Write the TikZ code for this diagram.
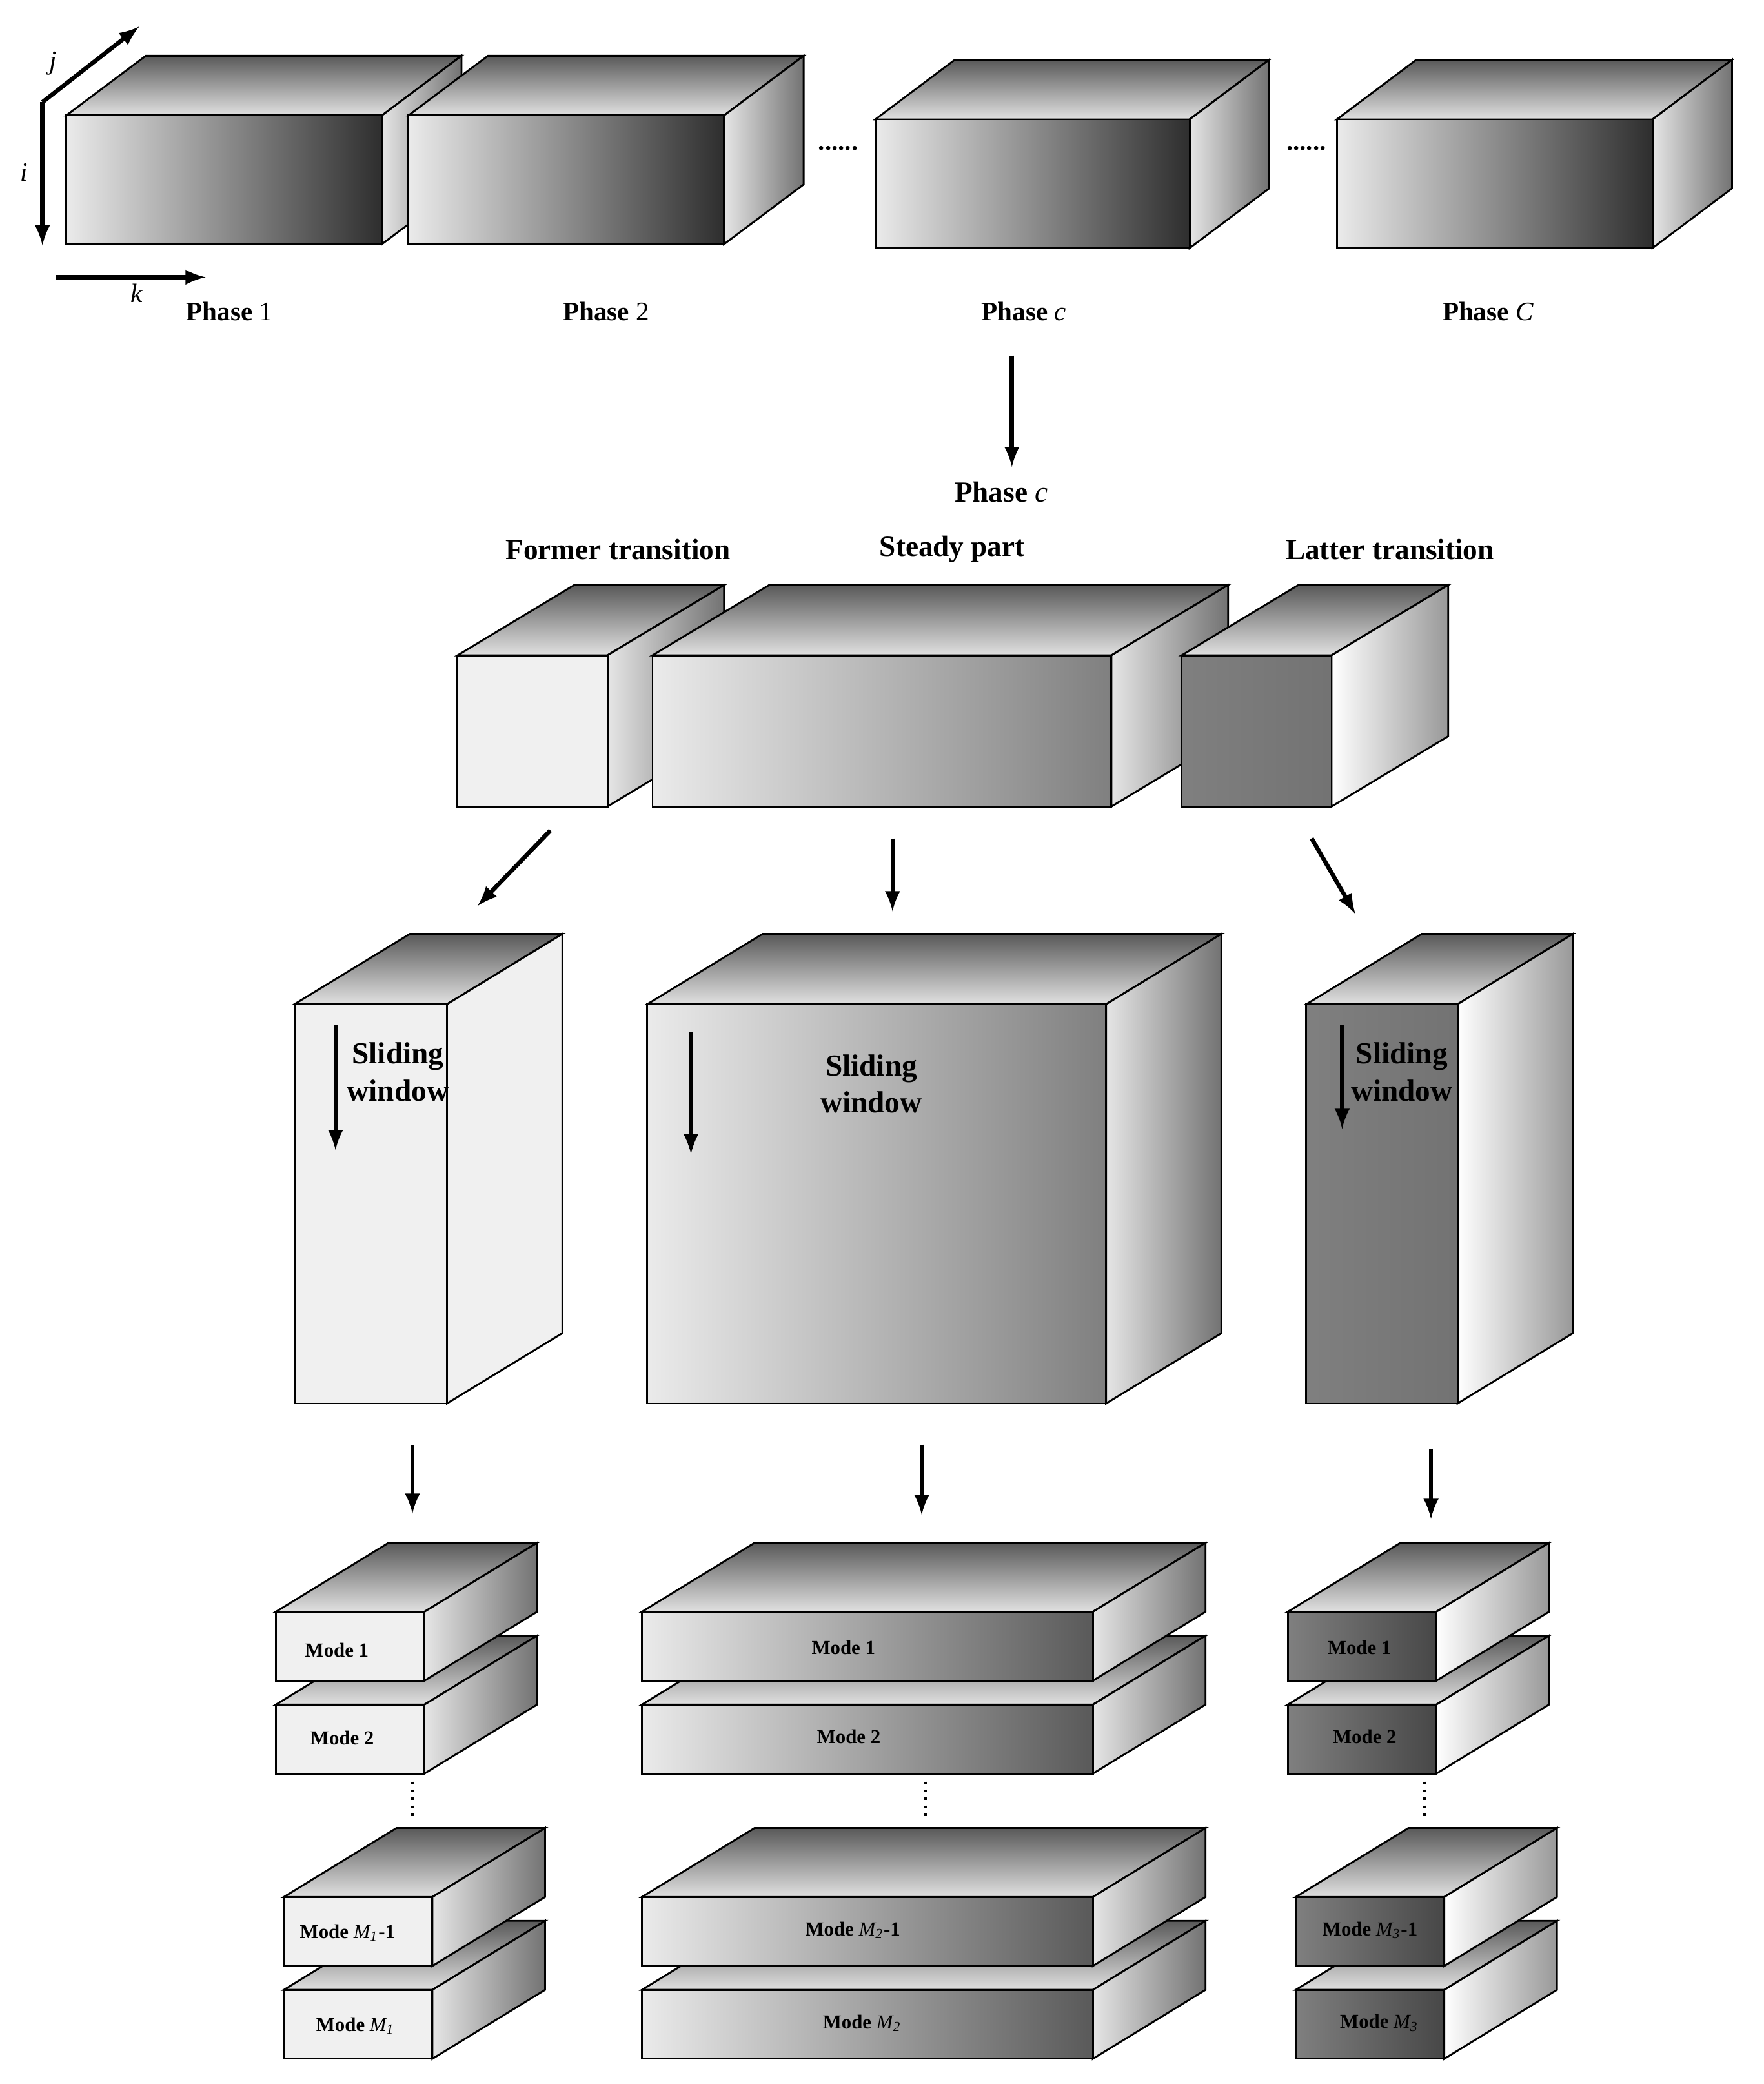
\documentclass[tikz,border=0pt]{standalone}
\usepackage{fontspec}
\setmainfont{Liberation Serif}
\begin{document}
\begin{tikzpicture}[x=0.5pt,y=-0.5pt,
 ln/.style={draw=black,line width=0.7pt},
 arr/.style={-latex,line width=1.6pt},
 fgrad/.style={left color=black!8,right color=black!82},
 fsteady/.style={left color=black!8,right color=black!50},
 fmode/.style={left color=black!8,right color=black!65},
 flight/.style={fill=black!6},
 fdark/.style={left color=black!50,right color=black!55},
 fdarkm/.style={left color=black!50,right color=black!72},
 tgrad/.style={top color=black!65,bottom color=black!12},
 sgrad/.style={left color=black!10,right color=black!55},
 slight/.style={left color=white,right color=black!40},
 lab/.style={font=\bfseries\fontsize{10}{12}\selectfont},
 head/.style={font=\bfseries\fontsize{11}{13}\selectfont},
 mlab/.style={font=\bfseries\fontsize{7.5}{9}\selectfont},
 sl/.style={font=\bfseries\fontsize{11.5}{14}\selectfont,align=center}]
\useasboundingbox (0,0) rectangle (1330,1571);
\newcommand\cub[9]{%
 \path[ln,#8] (#1,#2) -- (#3,#2) -- ({#3+#5},{#2-#6}) -- ({#1+#5},{#2-#6}) -- cycle;
 \path[ln,#9] (#3,#2) -- ({#3+#5},{#2-#6}) -- ({#3+#5},{#4-#6}) -- (#3,#4) -- cycle;
 \path[ln,#7] (#1,#2) rectangle (#3,#4);}
% top row
\cub{50}{87}{288}{184}{60}{45}{fgrad}{tgrad}{sgrad}
\cub{308}{87}{546}{184}{60}{45}{fgrad}{tgrad}{sgrad}
\cub{660}{90}{897}{187}{60}{45}{fgrad}{tgrad}{sgrad}
\cub{1008}{90}{1246}{187}{60}{45}{fgrad}{tgrad}{sgrad}
\node (d1) at (632,112) {\textbf{......}};
\node (d2) at (985,112) {\textbf{......}};
\coordinate (o) at (32,77); \coordinate (oj) at (105,20); \coordinate (oi) at (32,185);
\coordinate (k0) at (42,209); \coordinate (k1) at (155,209);
\draw[arr] (o) -- (oj); \draw[arr] (o) -- (oi); \draw[arr] (k0) -- (k1);
\node (lj) at (40,48) {\itshape j};
\node (li) at (18,130) {\itshape i};
\node (lk) at (103,221) {\itshape k};
\node[lab] (p1) at (173,235) {Phase \textmd{1}};
\node[lab] (p2) at (457,235) {Phase \textmd{2}};
\node[lab] (pc) at (772,235) {Phase \textmd{\itshape c}};
\node[lab] (pC) at (1122,235) {Phase \textmd{\itshape C}};
\coordinate (a0) at (763,268); \coordinate (a1) at (763,352);
\draw[arr] (a0) -- (a1);
\node[head] (pc2) at (755,371) {Phase \textmd{\itshape c}};
\node[head] (hf) at (466,414) {Former transition};
\node[head] (hs) at (718,414) {Steady part};
\node[head] (hl) at (1048,414) {Latter transition};
% middle row
\cub{345}{494}{458}{608}{88}{53}{flight}{tgrad}{sgrad}
\cub{492}{494}{838}{608}{88}{53}{fsteady}{tgrad}{sgrad}
\cub{891}{494}{1004}{608}{88}{53}{fdark}{tgrad}{slight}
\coordinate (b0) at (415,626); \coordinate (b1) at (360,683);
\coordinate (c0) at (673,632); \coordinate (c1) at (673,687);
\coordinate (e0) at (989,632); \coordinate (e1) at (1022,689);
\draw[arr] (b0) -- (b1); \draw[arr] (c0) -- (c1); \draw[arr] (e0) -- (e1);
% third row
\cub{222}{757}{337}{1058}{87}{53}{flight}{tgrad}{flight}
\cub{488}{757}{834}{1058}{87}{53}{fsteady}{tgrad}{sgrad}
\cub{985}{757}{1099}{1058}{87}{53}{fdark}{tgrad}{slight}
\coordinate (s0) at (253,773); \coordinate (s1) at (253,867);
\coordinate (t0) at (521,778); \coordinate (t1) at (521,870);
\coordinate (u0) at (1012,773); \coordinate (u1) at (1012,851);
\draw[arr] (s0) -- (s1); \draw[arr] (t0) -- (t1); \draw[arr] (u0) -- (u1);
\node[sl] (w1) at (300,808) {Sliding\\window};
\node[sl] (w2) at (657,817) {Sliding\\window};
\node[sl] (w3) at (1057,808) {Sliding\\window};
\coordinate (f0) at (311,1089); \coordinate (f1) at (311,1141);
\coordinate (g0) at (695,1089); \coordinate (g1) at (695,1142);
\coordinate (h0) at (1079,1092); \coordinate (h1) at (1079,1145);
\draw[arr] (f0) -- (f1); \draw[arr] (g0) -- (g1); \draw[arr] (h0) -- (h1);
% modes
\cub{208}{1285}{320}{1337}{85}{52}{flight}{tgrad}{sgrad}
\cub{208}{1215}{320}{1267}{85}{52}{flight}{tgrad}{sgrad}
\cub{214}{1500}{326}{1552}{85}{52}{flight}{tgrad}{sgrad}
\cub{214}{1430}{326}{1482}{85}{52}{flight}{tgrad}{sgrad}
\cub{484}{1285}{824}{1337}{85}{52}{fmode}{tgrad}{sgrad}
\cub{484}{1215}{824}{1267}{85}{52}{fmode}{tgrad}{sgrad}
\cub{484}{1500}{824}{1552}{85}{52}{fmode}{tgrad}{sgrad}
\cub{484}{1430}{824}{1482}{85}{52}{fmode}{tgrad}{sgrad}
\cub{971}{1285}{1083}{1337}{85}{52}{fdarkm}{tgrad}{slight}
\cub{971}{1215}{1083}{1267}{85}{52}{fdarkm}{tgrad}{slight}
\cub{977}{1500}{1089}{1552}{85}{52}{fdarkm}{tgrad}{slight}
\cub{977}{1430}{1089}{1482}{85}{52}{fdarkm}{tgrad}{slight}
\node[mlab] (m11) at (254,1244) {Mode 1};
\node[mlab] (m12) at (258,1310) {Mode 2};
\node[mlab] (m13) at (262,1457) {Mode \textmd{\itshape M\textsubscript{1}}-1};
\node[mlab] (m14) at (268,1527) {Mode \textmd{\itshape M\textsubscript{1}}};
\node[mlab] (m21) at (636,1242) {Mode 1};
\node[mlab] (m22) at (640,1309) {Mode 2};
\node[mlab] (m23) at (643,1455) {Mode \textmd{\itshape M\textsubscript{2}}-1};
\node[mlab] (m24) at (650,1525) {Mode \textmd{\itshape M\textsubscript{2}}};
\node[mlab] (m31) at (1025,1242) {Mode 1};
\node[mlab] (m32) at (1029,1309) {Mode 2};
\node[mlab] (m33) at (1033,1455) {Mode \textmd{\itshape M\textsubscript{3}}-1};
\node[mlab] (m34) at (1040,1525) {Mode \textmd{\itshape M\textsubscript{3}}};
\coordinate (q0) at (311,1343); \coordinate (q1) at (311,1373);
\coordinate (r0) at (698,1343); \coordinate (r1) at (698,1373);
\coordinate (v0) at (1074,1343); \coordinate (v1) at (1074,1373);
\draw[dotted,line width=1pt] (q0) -- (q1); \draw[dotted,line width=1pt] (r0) -- (r1); \draw[dotted,line width=1pt] (v0) -- (v1);
\end{tikzpicture}
\end{document}
